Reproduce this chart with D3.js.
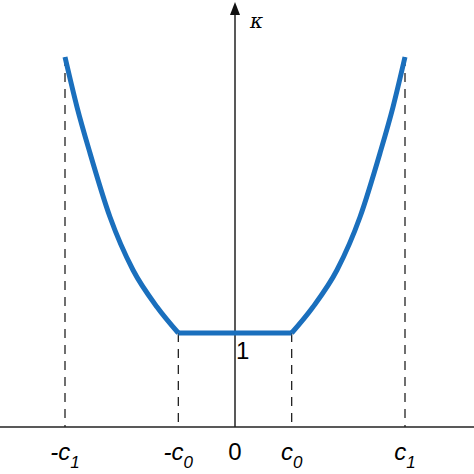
<!DOCTYPE html>
<html><head><meta charset="utf-8">
<script src="https://cdn.jsdelivr.net/npm/d3@7"></script>
<style>body{margin:0;background:#fff}</style></head>
<body><div id="chart"></div>
<script>
const width = 474, height = 474;

// right branch of kappa(x) (x in units of c, kappa)
const xs = [1.0, 1.376, 1.80, 2.206, 2.559, 2.788, 3.0];
const ks = [1.0, 1.277, 1.67, 2.234, 2.915, 3.404, 3.936];
const tickVals = [-3, -1, 0, 1, 3];
const tickNames = [["-c", "1"], ["-c", "0"], ["0", ""], ["c", "0"], ["c", "1"]];

const x = d3.scaleLinear().domain([-3, 3]).range([65, 405]);
const y = d3.scaleLinear().domain([0, 1]).range([427, 333]);

const svg = d3.select("#chart").append("svg").attr("width", width).attr("height", height);

// build full curve: mirrored left branch, flat bottom, right branch
const right = xs.map((v, i) => [v, ks[i]]);
const left = right.slice().reverse().map(d => [-d[0], d[1]]);

// dashed guides
const guides = [[-3, ks[ks.length - 1]], [-1, 1], [1, 1], [3, ks[ks.length - 1]]];
svg.selectAll(".guide").data(guides).join("line")
  .attr("x1", d => x(d[0])).attr("x2", d => x(d[0]))
  .attr("y1", d => y(d[1])).attr("y2", y(0))
  .attr("stroke", "#222").attr("stroke-width", 1.3).attr("stroke-dasharray", "9,7");

// axes
svg.append("line").attr("x1", 0).attr("x2", width).attr("y1", y(0)).attr("y2", y(0))
  .attr("stroke", "#222").attr("stroke-width", 1.5);
svg.append("line").attr("x1", x(0)).attr("x2", x(0)).attr("y1", 12).attr("y2", y(0))
  .attr("stroke", "#222").attr("stroke-width", 1.5);
svg.append("path").attr("d", `M${x(0)},2 L${x(0) - 5},15 L${x(0) + 5},15 Z`).attr("fill", "#111");

const line = d3.line().x(d => x(d[0])).y(d => y(d[1]));
svg.append("path").datum(left).attr("d", line.curve(d3.curveMonotoneX))
  .attr("fill", "none").attr("stroke", "#1a6fbd").attr("stroke-width", 5);
svg.append("path").datum([[-1, 1], [1, 1]]).attr("d", d3.line().x(d => x(d[0])).y(d => y(d[1])))
  .attr("fill", "none").attr("stroke", "#1a6fbd").attr("stroke-width", 5);
svg.append("path").datum(right).attr("d", line.curve(d3.curveMonotoneX))
  .attr("fill", "none").attr("stroke", "#1a6fbd").attr("stroke-width", 5);

// labels
const font = "Liberation Sans, Arial, sans-serif";
svg.append("text").attr("x", 250).attr("y", 28).attr("font-family", "DejaVu Serif, serif")
  .attr("font-style", "italic").attr("font-size", 20).text("κ");
svg.append("text").attr("x", x(0) + 1).attr("y", y(1) + 26).attr("font-family", font)
  .attr("font-size", 24).text("1");

const tl = svg.selectAll(".tl").data(tickVals).join("text")
  .attr("x", d => x(d)).attr("y", 460).attr("text-anchor", "middle")
  .attr("font-family", font).attr("font-size", 24);
tl.append("tspan").attr("font-style", (d, i) => i === 2 ? "normal" : "italic")
  .text((d, i) => tickNames[i][0]);
tl.append("tspan").attr("font-style", "italic").attr("font-size", 17).attr("dy", 8)
  .text((d, i) => tickNames[i][1]);
</script></body></html>
